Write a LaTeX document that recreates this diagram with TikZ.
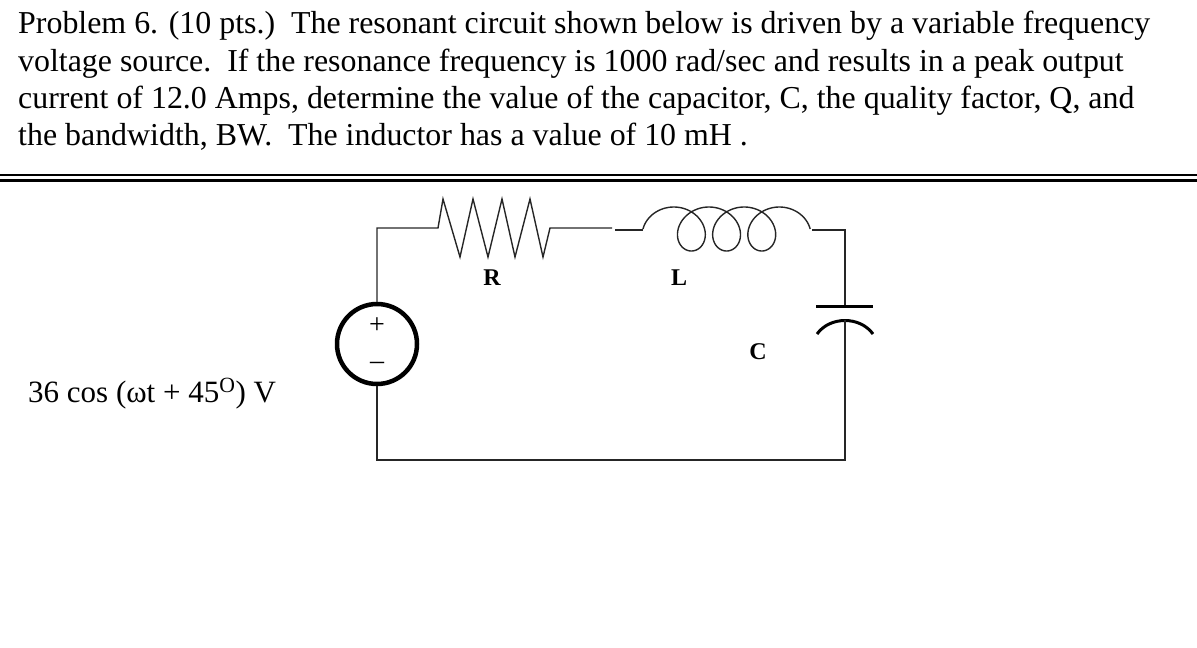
\documentclass[tikz,border=0pt]{standalone}
\usepackage{fontspec}
\setmainfont{Liberation Serif}
\begin{document}
\begin{tikzpicture}[x=1pt,y=-1pt,wire/.style={line width=1.4pt,black!85},
 txt/.style={anchor=base west,inner sep=0pt,font=\fontsize{31.9}{34}\selectfont},
 lab/.style={inner sep=0pt,font=\bfseries\fontsize{24}{26}\selectfont}]
\useasboundingbox (0,0) rectangle (1197,648);
\node[txt] (t1) at (18,33) {Problem 6. (10 pts.)\ \ The resonant circuit shown below is driven by a variable frequency};
\node[txt] (t2) at (18,71) {voltage source.\ \ If the resonance frequency is 1000 rad/sec and results in a peak output};
\node[txt] (t3) at (18,108) {current of 12.0 Amps, determine the value of the capacitor, C, the quality factor, Q, and};
\node[txt] (t4) at (18,145) {the bandwidth, BW.\ \ The inductor has a value of 10 mH .};
\draw[line width=2.2pt] (0,175) -- (1197,175);
\draw[line width=2.2pt] (0,180.5) -- (1197,180.5);
\coordinate (s) at (377,344);
\coordinate (tl) at (377,228);
\coordinate (r1) at (438,228);
\coordinate (r2) at (550,228);
\coordinate (w1) at (612,228);
\coordinate (w2) at (615,230);
\coordinate (l1) at (643,230);
\coordinate (l2) at (812,230);
\coordinate (tr) at (845,230);
\coordinate (cp) at (845,306);
\coordinate (cq) at (845,320);
\coordinate (br) at (845,460);
\coordinate (bl) at (377,460);
\node[circle,draw,line width=4.5pt,minimum size=80pt,inner sep=0pt] (src) at (s) {};
\node[font=\fontsize{28}{30}\selectfont,inner sep=0pt] (pl) at (377,326) {+};
\node[font=\fontsize{28}{30}\selectfont,inner sep=0pt] (mi) at (377,366) {\textendash};
\draw[wire] (src.north) -- (tl) -- (r1) -- (443,199) -- (460,257) -- (473,199) -- (488,257) -- (502,199) -- (515,257) -- (530,199) -- (543,257) -- (r2) -- (w1);
\draw[wire] (w2) -- (l1);
\draw[wire,shift={(665,229)}] plot[domain=0:7*pi,samples=300,smooth,variable=\t] ({5.6*\t*1pt-22*cos(\t r)*1pt},{22*sin(\t r)*1pt}) ;
\draw[wire] (l2) -- (tr) -- (cp);
\draw[line width=3pt] (816,306) -- (873,306);
\draw[line width=3pt] (817,334) .. controls (830,316) and (860,316) .. (873,334);
\draw[wire] (cq) -- (br) -- (bl) -- (src.south);
\node[lab] (R) at (492,278) {R};
\node[lab] (L) at (679,278) {L};
\node[lab] (C) at (758,352) {C};
\node[inner sep=0pt,anchor=base west,font=\fontsize{31}{33}\selectfont] (v) at (28,402) {36 cos (ωt + 45$^{\mathrm{O}}$) V};
\end{tikzpicture}
\end{document}
